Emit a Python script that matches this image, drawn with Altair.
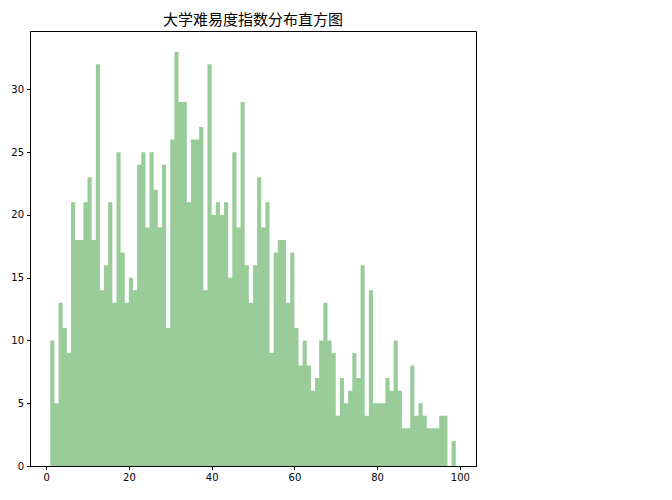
import altair as alt
import pandas as pd

title_text = "大学难易度指数分布直方图"
data_min = 1.0
data_max = 99.0
counts = [10, 5, 13, 11, 9, 21, 18, 18, 21, 23, 18, 32, 14, 16, 21, 13, 25, 17, 13, 15,
          14, 24, 25, 19, 25, 22, 19, 24, 11, 26, 33, 29, 29, 21, 26, 26, 27, 14, 32, 20,
          21, 20, 21, 15, 25, 19, 29, 16, 13, 16, 23, 19, 21, 9, 17, 18, 18, 13, 17, 11,
          8, 10, 8, 6, 7, 10, 13, 10, 9, 4, 7, 5, 6, 9, 7, 16, 4, 14, 5, 5,
          5, 7, 6, 10, 6, 3, 3, 8, 4, 5, 4, 3, 3, 3, 4, 4, 0, 2]
x_ticks = [0, 20, 40, 60, 80, 100]
y_ticks = [0, 5, 10, 15, 20, 25, 30]

n = len(counts)
w = (data_max - data_min) / n
edges = [data_min + i * w for i in range(n)] + [data_max]
heights = counts + [0]
df = pd.DataFrame({"edge": edges, "count": heights})

span = data_max - data_min
x_dom = [data_min - 0.05 * span, data_max + 0.05 * span]
y_dom = [0, max(counts) * 1.05]

axis_style = dict(title=None, grid=False, tickSize=3.5, labelPadding=3,
                  domainColor="black", tickColor="black", labelColor="black",
                  labelFontSize=10, labelFont="DejaVu Sans")

bars = alt.Chart(df).mark_area(color="#99cc99", interpolate="step-after", opacity=1).encode(
    x=alt.X("edge:Q", scale=alt.Scale(domain=x_dom, nice=False, zero=False),
            axis=alt.Axis(values=x_ticks, **axis_style)),
    y=alt.Y("count:Q", scale=alt.Scale(domain=y_dom, nice=False),
            axis=alt.Axis(values=y_ticks, **axis_style)),
)

chart = bars.properties(
    width=446,
    height=435,
    title=alt.TitleParams(title_text, fontSize=15, font="Noto Sans CJK SC",
                          fontWeight="normal", color="black", anchor="middle",
                          frame="group", offset=3),
    autosize=alt.AutoSizeParams(type="none"),
    padding={"left": 22, "top": 23, "right": 10, "bottom": 30},
    background="white",
).configure_view(stroke="black", strokeWidth=1)

chart.save("out.html", embed_options={"renderer": "svg", "actions": False})
